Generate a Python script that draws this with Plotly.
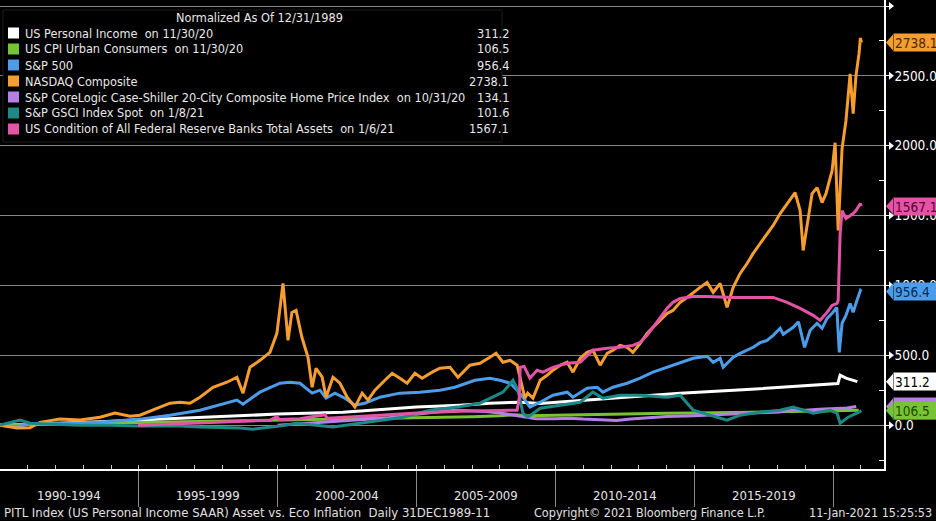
import plotly.graph_objects as go

# ---------------- data (decimal year, % change since 12/31/1989) ----------------
personal_income = [(1990.00, 0), (1991.80, 15), (1993.60, 25), (1995.04, 36), (1997.20, 55), (2000.00, 79),
                   (2002.35, 93), (2005.00, 129), (2006.56, 143), (2007.64, 157), (2008.73, 164), (2009.45, 155),
                   (2010.17, 165), (2011.61, 185), (2013.05, 205), (2014.49, 229), (2016.90, 255), (2019.28, 286),
                   (2020.00, 300), (2020.17, 298), (2020.25, 357), (2020.35, 345), (2020.46, 336), (2020.87, 311.2)]

cpi = [(1990.0, 0), (1991.0, 6.1), (1992.0, 9.4), (1993.0, 12.5), (1994.0, 15.6), (1995.0, 18.7), (1996.0, 21.7),
       (1997.0, 25.8), (1998.0, 27.9), (1999.0, 30.0), (2000.0, 33.5), (2001.0, 38.0), (2002.0, 40.1), (2003.0, 43.5),
       (2004.0, 46.2), (2005.0, 50.9), (2006.0, 56.1), (2007.0, 60.0), (2008.0, 66.5), (2008.55, 74.4), (2009.0, 66.7),
       (2010.0, 71.2), (2011.0, 73.8), (2012.0, 79.0), (2013.0, 82.1), (2014.0, 84.8), (2015.0, 86.2), (2016.0, 87.5),
       (2017.0, 91.4), (2018.0, 95.5), (2019.0, 99.2), (2020.0, 103.8), (2020.92, 106.5)]

sp500 = [(1990.00, 0), (1990.61, -10), (1991.00, 5), (1992.16, 14), (1993.60, 21), (1995.04, 43), (1996.12, 71),
         (1997.20, 107), (1997.92, 143), (1998.53, 179), (1998.75, 150), (1999.36, 236), (2000.08, 300), (2000.44, 307),
         (2000.80, 300), (2001.24, 229), (2001.52, 250), (2001.74, 193), (2002.06, 229), (2002.42, 193), (2002.78, 143),
         (2003.14, 157), (2003.68, 200), (2004.40, 229), (2005.12, 236), (2005.84, 250), (2006.38, 271), (2007.10, 321),
         (2007.64, 336), (2008.00, 321), (2008.37, 300), (2008.62, 250), (2008.83, 200), (2009.08, 129), (2009.45, 164),
         (2009.91, 214), (2010.42, 236), (2010.63, 200), (2011.14, 264), (2011.50, 271), (2011.71, 236), (2012.07, 271),
         (2012.58, 300), (2013.05, 336), (2013.51, 379), (2014.02, 414), (2014.49, 450), (2014.96, 479), (2015.46, 493),
         (2015.68, 450), (2015.93, 479), (2016.04, 414), (2016.40, 486), (2016.65, 514), (2017.12, 557), (2017.37, 590),
         (2017.62, 607), (2017.84, 643), (2018.09, 693), (2018.20, 650), (2018.56, 700), (2018.75, 740), (2018.97, 557),
         (2019.17, 679), (2019.42, 729), (2019.60, 693), (2019.78, 764), (2019.96, 800), (2020.13, 843), (2020.22, 521),
         (2020.32, 729), (2020.46, 786), (2020.61, 871), (2020.72, 807), (2020.82, 871), (2020.93, 929), (2020.98, 964),
         (2021.02, 956.4)]

nasdaq = [(1990.00, 0), (1990.61, -20), (1991.08, -18), (1991.44, 20), (1992.16, 43), (1992.88, 36), (1993.60, 57),
          (1994.14, 86), (1994.68, 64), (1995.04, 71), (1995.58, 114), (1996.12, 157), (1996.48, 164), (1996.84, 157),
          (1997.20, 200), (1997.67, 271), (1998.17, 307), (1998.53, 343), (1998.75, 229), (1999.00, 414), (1999.36, 464),
          (1999.72, 521), (1999.97, 657), (2000.19, 1014), (2000.37, 607), (2000.51, 807), (2000.66, 821), (2000.87, 629),
          (2001.09, 486), (2001.24, 271), (2001.38, 407), (2001.60, 343), (2001.74, 200), (2001.99, 343), (2002.24, 300),
          (2002.50, 200), (2002.78, 129), (2003.04, 229), (2003.25, 179), (2003.50, 250), (2003.86, 321), (2004.12, 371),
          (2004.40, 336), (2004.66, 300), (2004.94, 371), (2005.20, 336), (2005.56, 379), (2005.84, 407), (2006.20, 414),
          (2006.49, 343), (2006.92, 429), (2007.28, 443), (2007.64, 486), (2007.86, 514), (2008.11, 450), (2008.37, 464),
          (2008.62, 429), (2008.73, 343), (2008.83, 250), (2008.90, 193), (2009.00, 229), (2009.19, 193), (2009.35, 271),
          (2009.45, 321), (2009.70, 357), (2009.91, 393), (2010.17, 429), (2010.42, 450), (2010.63, 379), (2010.89, 479),
          (2011.14, 521), (2011.35, 536), (2011.61, 429), (2011.86, 514), (2012.07, 536), (2012.33, 571), (2012.58, 557),
          (2012.79, 521), (2013.05, 586), (2013.30, 657), (2013.51, 700), (2013.77, 750), (2014.02, 800), (2014.23, 821),
          (2014.49, 879), (2014.74, 914), (2014.96, 950), (2015.21, 986), (2015.46, 1021), (2015.68, 950), (2015.93, 1014),
          (2016.18, 843), (2016.40, 986), (2016.65, 1086), (2016.90, 1157), (2017.12, 1229), (2017.37, 1300),
          (2017.62, 1371), (2017.84, 1429), (2018.09, 1514), (2018.38, 1593), (2018.63, 1664), (2018.81, 1536),
          (2018.92, 1250), (2019.24, 1657), (2019.42, 1700), (2019.60, 1593), (2019.74, 1657), (2019.96, 1821),
          (2020.07, 2021), (2020.18, 1393), (2020.32, 1979), (2020.46, 2179), (2020.61, 2514), (2020.72, 2229),
          (2020.82, 2500), (2020.93, 2657), (2020.98, 2771), (2021.02, 2738.1)]

case_shiller = [(2000.00, 0), (2001.00, 13), (2002.00, 22), (2003.00, 36), (2004.00, 53), (2005.00, 77), (2006.00, 101),
                (2006.50, 106), (2007.00, 102), (2007.50, 98), (2008.00, 87), (2008.50, 73), (2009.00, 59),
                (2009.30, 46), (2010.00, 46), (2010.50, 50), (2011.00, 43), (2012.20, 34), (2012.70, 44),
                (2013.50, 57), (2014.00, 62), (2015.00, 68), (2016.00, 76), (2017.00, 85), (2018.00, 94),
                (2018.60, 108), (2019.00, 106), (2019.50, 113), (2020.00, 117), (2020.50, 122), (2020.83, 134.1)]

gsci = [(1990.00, 0), (1990.72, 36), (1991.08, 14), (1991.80, 7), (1992.88, 0), (1993.96, 0), (1995.04, -7),
        (1996.48, -7), (1997.20, -14), (1998.64, -21), (1999.11, -29), (2000.08, -7), (2000.69, 14), (2001.99, -14),
        (2003.22, 21), (2004.51, 57), (2005.48, 107), (2006.46, 129), (2007.28, 157), (2007.90, 214), (2008.11, 236),
        (2008.47, 321), (2008.65, 250), (2008.83, 86), (2009.01, 57), (2009.45, 121), (2010.17, 143), (2010.89, 164),
        (2011.35, 236), (2011.71, 193), (2012.33, 214), (2013.05, 214), (2014.02, 200), (2014.49, 214), (2014.96, 107),
        (2015.32, 86), (2015.93, 50), (2016.18, 36), (2016.65, 71), (2017.37, 93), (2018.09, 107), (2018.56, 129),
        (2019.28, 86), (2019.89, 107), (2020.14, 86), (2020.25, 14), (2020.54, 57), (2021.02, 101.6)]

fed_assets = [(1994.97, 0), (1996.48, 10), (1998.28, 25), (1999.72, 35), (1999.97, 60), (2000.05, 40), (2000.80, 45),
              (2001.70, 75), (2001.78, 50), (2002.42, 55), (2003.68, 70), (2005.02, 86), (2006.56, 100), (2008.00, 105),
              (2008.62, 107), (2008.70, 200), (2008.73, 414), (2008.87, 420), (2009.08, 336), (2009.34, 393),
              (2009.55, 379), (2009.91, 414), (2010.42, 443), (2010.89, 450), (2011.35, 536), (2011.86, 550),
              (2012.33, 557), (2012.79, 571), (2013.05, 593), (2013.30, 643), (2013.51, 700), (2013.77, 764),
              (2014.02, 836), (2014.23, 879), (2014.49, 907), (2014.96, 921), (2015.46, 921), (2016.40, 914),
              (2017.37, 914), (2017.84, 914), (2018.34, 879), (2018.81, 836), (2019.28, 786), (2019.53, 750),
              (2019.78, 807), (2019.96, 857), (2020.14, 871), (2020.18, 893), (2020.25, 1371), (2020.32, 1536),
              (2020.46, 1479), (2020.61, 1500), (2020.72, 1514), (2020.82, 1536), (2020.98, 1586), (2021.01, 1567.1)]

legend_labels = ["US Personal Income  on 11/30/20", "US CPI Urban Consumers  on 11/30/20", "S&P 500",
                 "NASDAQ Composite",
                 "S&P CoreLogic Case-Shiller 20-City Composite Home Price Index  on 10/31/20",
                 "S&P GSCI Index Spot  on 1/8/21",
                 "US Condition of All Federal Reserve Banks Total Assets  on 1/6/21"]
last_values = ["311.2", "106.5", "956.4", "2738.1", "134.1", "101.6", "1567.1"]
series = [personal_income, cpi, sp500, nasdaq, case_shiller, gsci, fed_assets]
colors = ["#ffffff", "#78c332", "#4c9de9", "#f59d2f", "#b47fe6", "#1b8a86", "#e454a6"]
tag_text_colors = ["#000000", "#1d4a00", "#0a2a55", "#4a2800", "#3a1858", "#002a2a", "#5a0032"]

y_ticks = [0, 500, 1000, 1500, 2000, 2500, 3000]
y_minor = [-250, 250, 750, 1250, 1750, 2250, 2750]
x_major = [1995, 2000, 2005, 2010, 2015, 2020]
x_minor = list(range(1991, 2022))
period_centers = [1992.5, 1997.5, 2002.5, 2007.5, 2012.5, 2017.5]
period_labels = ["1990-1994", "1995-1999", "2000-2004", "2005-2009", "2010-2014", "2015-2019"]

FONT = "DejaVu Sans Condensed, DejaVu Sans, sans-serif"
W, H = 936, 521
ML, MR, MT, MB = 0, 52, 0, 52
PW, PH = W - ML - MR, H - MT - MB

fig = go.Figure()
for pts, col in zip(series, colors):
    fig.add_trace(go.Scatter(x=[p[0] for p in pts], y=[p[1] for p in pts], mode="lines",
                             line=dict(color=col, width=3), showlegend=False, hoverinfo="skip"))

shapes = []
annotations = []

# tick arrow heads on right axis
for v in y_ticks:
    shapes.append(dict(type="path", xref="paper", yref="y", xsizemode="pixel", ysizemode="pixel",
                       xanchor=1, yanchor=v, path="M 5,-4 L 5,4 L 10,0 Z",
                       fillcolor="white", line=dict(width=0), layer="above"))

# last-value tags (teal & purple first so green sits on top)
tag_order = [5, 4, 1, 0, 2, 6, 3]
for i in tag_order:
    last = series[i][-1][1]
    shapes.append(dict(type="path", xref="paper", yref="y", xsizemode="pixel", ysizemode="pixel",
                       xanchor=1, yanchor=last, path="M 2,0 L 9,8 L 9,-8 Z",
                       fillcolor=colors[i], line=dict(width=0), layer="above"))
    annotations.append(dict(x=1, xref="paper", y=last, yref="y", xanchor="left", yanchor="middle",
                            xshift=9, text=last_values[i], showarrow=False, align="left",
                            width=44, height=15, bgcolor=colors[i], borderpad=1,
                            font=dict(family=FONT, size=13.5, color=tag_text_colors[i])))


def px_x(x):
    return x / PW


def px_y(y):
    return 1 - y / PH


# legend box
shapes.append(dict(type="rect", xref="paper", yref="paper", x0=px_x(3), x1=px_x(502), y0=px_y(142), y1=px_y(10),
                   fillcolor="black", line=dict(color="#1c1c1c", width=1), layer="above"))
annotations.append(dict(x=px_x(259), y=px_y(17), xref="paper", yref="paper", text="Normalized As Of 12/31/1989",
                        showarrow=False, xanchor="center", yanchor="middle",
                        font=dict(family=FONT, size=12.6, color="#e8e8e8")))
for k, (lab, val, col) in enumerate(zip(legend_labels, last_values, colors)):
    yc = 33 + 16 * k
    shapes.append(dict(type="rect", xref="paper", yref="paper", x0=px_x(8), x1=px_x(19),
                       y0=px_y(yc + 5.5), y1=px_y(yc - 5.5), fillcolor=col, line=dict(width=0), layer="above"))
    annotations.append(dict(x=px_x(23), y=px_y(yc), xref="paper", yref="paper", text=lab, showarrow=False,
                            xanchor="left", yanchor="middle", font=dict(family=FONT, size=12.6, color="#e8e8e8")))
    annotations.append(dict(x=px_x(511), y=px_y(yc), xref="paper", yref="paper", text=val, showarrow=False,
                            xanchor="right", yanchor="middle", font=dict(family=FONT, size=12.6, color="#e8e8e8")))

# period labels on x axis
for c, lab in zip(period_centers, period_labels):
    annotations.append(dict(x=c, xref="x", y=0, yref="paper", yshift=-26, text=lab, showarrow=False,
                            xanchor="center", yanchor="middle", font=dict(family=FONT, size=13, color="#e6e6e6")))

# footer
annotations.append(dict(x=px_x(2), xref="paper", y=0, yref="paper", yshift=-43, xanchor="left", yanchor="middle",
                        showarrow=False,
                        text="PITL Index (US Personal Income SAAR) Asset vs. Eco Inflation  Daily 31DEC1989-11",
                        font=dict(family=FONT, size=13, color="#e0e0e0")))
annotations.append(dict(x=px_x(532), xref="paper", y=0, yref="paper", yshift=-43, xanchor="left", yanchor="middle",
                        showarrow=False, text="Copyright\u00a9 2021 Bloomberg Finance L.P.",
                        font=dict(family=FONT, size=12.5, color="#e0e0e0")))
annotations.append(dict(x=px_x(934), xref="paper", y=0, yref="paper", yshift=-43, xanchor="right",
                        yanchor="middle", showarrow=False, text="11-Jan-2021 15:25:53",
                        font=dict(family=FONT, size=12.5, color="#e0e0e0")))

fig.update_layout(
    width=W, height=H, margin=dict(l=ML, r=MR, t=MT, b=MB, pad=0),
    paper_bgcolor="black", plot_bgcolor="black",
    showlegend=False, shapes=shapes, annotations=annotations,
    font=dict(family=FONT, color="white"),
    xaxis=dict(range=[1990, 2021.83], showgrid=False, zeroline=False, showline=True, linecolor="white",
               linewidth=1.5, tickvals=x_major, ticks="outside", ticklen=36, tickcolor="#8c8c8c", tickwidth=1,
               showticklabels=False,
               minor=dict(tickvals=x_minor, ticks="inside", ticklen=4, tickcolor="#c8c8c8", tickwidth=1)),
    yaxis=dict(range=[-314, 3043], side="right", tickvals=y_ticks, ticktext=[f"{v:.1f}" for v in y_ticks],
               showgrid=True, gridcolor="#858585", gridwidth=1, zeroline=False, showline=True, linecolor="white",
               linewidth=1.5, ticks="outside", ticklen=5, tickcolor="white", tickwidth=1, ticklabelstandoff=1,
               tickfont=dict(family=FONT, size=13.5, color="white"),
               minor=dict(tickvals=y_minor, ticks="inside", ticklen=5, tickcolor="white", tickwidth=1)),
)

fig.write_html("out.html")
